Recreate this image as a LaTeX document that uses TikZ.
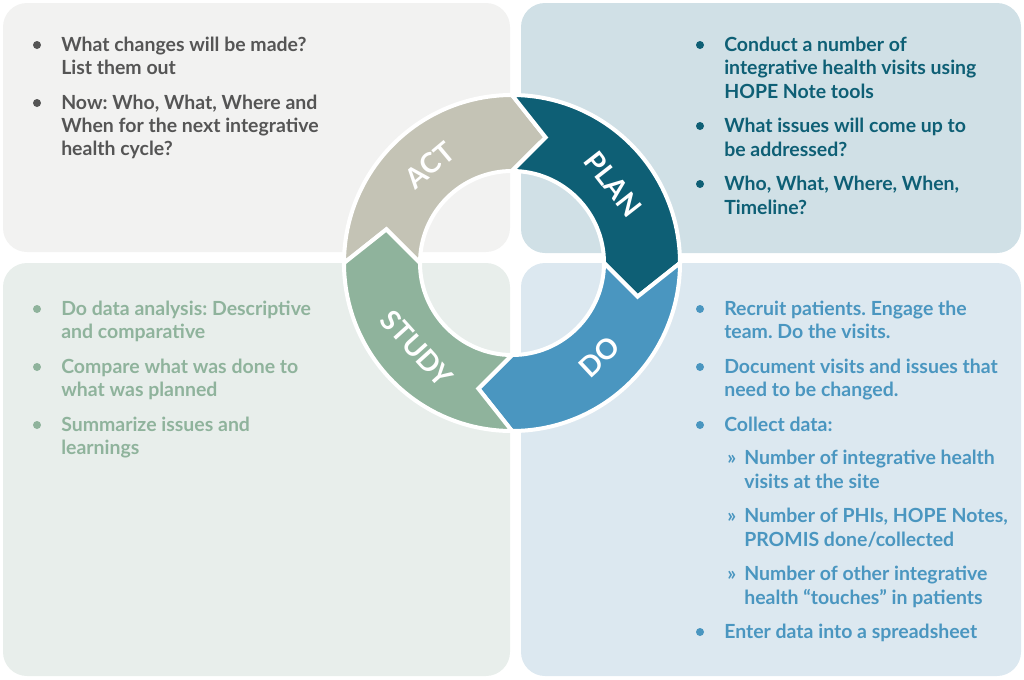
\documentclass[tikz,border=0pt]{standalone}
\usepackage{fontspec}
\setmainfont{Lato}
\frenchspacing
\definecolor{tlbg}{HTML}{F2F2F1}
\definecolor{trbg}{HTML}{D0E0E6}
\definecolor{blbg}{HTML}{E8EEEB}
\definecolor{brbg}{HTML}{DCE8F0}
\definecolor{actc}{HTML}{C4C3B5}
\definecolor{planc}{HTML}{0E5F75}
\definecolor{doc}{HTML}{4A96C0}
\definecolor{studyc}{HTML}{8FB39C}
\definecolor{greytext}{HTML}{555555}
\begin{document}
\begin{tikzpicture}[x=0.75pt,y=-0.75pt,
  panel/.style={rounded corners=18pt},
  ln/.style={anchor=base west,inner sep=0pt,font=\bfseries\fontsize{14.6}{17}\selectfont},
  lab/.style={text=white,inner sep=0pt,font=\bfseries\fontsize{21}{24}\selectfont},
  seg/.style={draw=white,line width=3pt,line join=miter}]
\useasboundingbox (0,0) rectangle (1024,679);
\fill[panel,tlbg] (3,3) rectangle (510,252);
\fill[panel,trbg] (521,3) rectangle (1021,253);
\fill[panel,blbg] (3,263) rectangle (510,676);
\fill[panel,brbg] (521,263) rectangle (1021,676);
\newcommand\bul[4]{\fill[#4] (#1,#2) circle[radius=4]; \node[ln,text=#4] at (#1+24,#2+6) {#3};}
\newcommand\lne[4]{\node[ln,text=#4] at (#1,#2+6) {#3};}
\newcommand\sub[4]{\node[ln,text=#4] at (#1,#2+6) {»}; \node[ln,text=#4] at (#1+17,#2+6) {#3};}
% top-left
\bul{37}{45}{What changes will be made?}{greytext}
\lne{61}{68}{List them out}{greytext}
\bul{37}{103}{Now: Who, What, Where and}{greytext}
\lne{61}{126}{When for the next integrative}{greytext}
\lne{61}{149}{health cycle?}{greytext}
% top-right
\bul{700}{45}{Conduct a number of}{planc}
\lne{724}{68}{integrative health visits using}{planc}
\lne{724}{92}{HOPE Note tools}{planc}
\bul{700}{126}{What issues will come up to}{planc}
\lne{724}{150}{be addressed?}{planc}
\bul{700}{184}{Who, What, Where, When,}{planc}
\lne{724}{208}{Timeline?}{planc}
% bottom-left
\bul{37}{309}{Do data analysis: Descriptive}{studyc}
\lne{61}{332}{and comparative}{studyc}
\bul{37}{367}{Compare what was done to}{studyc}
\lne{61}{390}{what was planned}{studyc}
\bul{37}{425}{Summarize issues and}{studyc}
\lne{61}{448}{learnings}{studyc}
% bottom-right
\bul{700}{309}{Recruit patients. Engage the}{doc}
\lne{724}{332}{team. Do the visits.}{doc}
\bul{700}{367}{Document visits and issues that}{doc}
\lne{724}{390}{need to be changed.}{doc}
\bul{700}{425}{Collect data:}{doc}
\sub{727}{458}{Number of integrative health}{doc}
\lne{744}{482}{visits at the site}{doc}
\sub{727}{516}{Number of PHIs, HOPE Notes,}{doc}
\lne{744}{540}{PROMIS done/collected}{doc}
\sub{727}{574}{Number of other integrative}{doc}
\lne{744}{598}{health “touches” in patients}{doc}
\bul{700}{632}{Enter data into a spreadsheet}{doc}
% cycle
\begin{scope}[shift={(512,263)},y=0.75pt]
\newcommand\cycseg[3]{\filldraw[seg,fill=#3] (#1:168) arc[start angle=#1,end angle=#2,radius=168] -- ({#2-15}:130) -- (#2:92) arc[start angle=#2,end angle=#1,radius=92] -- ({#1-15}:130) -- cycle;}
\cycseg{180}{90}{actc}
\cycseg{90}{0}{planc}
\cycseg{0}{-90}{doc}
\cycseg{-90}{-180}{studyc}
\node[lab,rotate=40] (act) at (130:128) {ACT};
\node[lab,rotate=-52] (plan) at (38:128) {PLAN};
\node[lab,rotate=43] (do) at (-47:128) {DO};
\node[lab,rotate=-48] (study) at (-138:128) {STUDY};
\end{scope}
\end{tikzpicture}
\end{document}
